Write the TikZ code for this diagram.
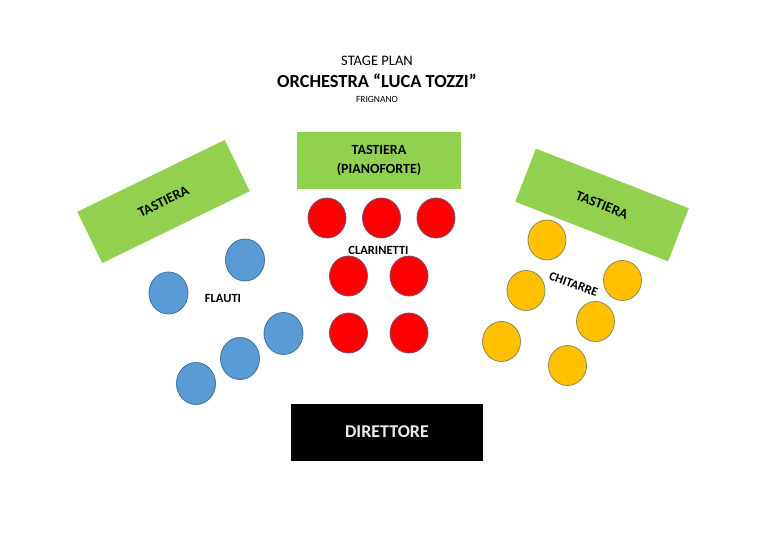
\documentclass[tikz,border=0pt]{standalone}
\usepackage{fontspec}
\setmainfont{Carlito}
\usetikzlibrary{positioning,shapes.geometric}

\begin{document}
\begin{tikzpicture}[x=1pt,y=-1pt,
            keyboard/.style={rectangle, fill=kbgreen, minimum width=164pt, minimum height=57pt, inner sep=0pt, font=\bfseries\fontsize{14}{19}\selectfont, align=center},
            clarinet/.style={ellipse, draw=redline, fill=red, line width=0.8pt, minimum width=38pt, minimum height=40pt},
            flute/.style={ellipse, draw=blueline, fill=flblue, line width=0.8pt, minimum width=39pt, minimum height=42pt},
            guitar/.style={ellipse, draw=orline, fill=gtorange, line width=0.8pt, minimum width=38pt, minimum height=40pt},
            section/.style={font=\bfseries\fontsize{12.5}{14}\selectfont, inner sep=0pt},
            ]
            \definecolor{kbgreen}{HTML}{92D050}
            \definecolor{redline}{HTML}{7A4E78}
            \definecolor{flblue}{HTML}{5B9BD5}
            \definecolor{blueline}{HTML}{41719C}
            \definecolor{gtorange}{HTML}{FFC000}
            \definecolor{orline}{HTML}{8A8A5C}
            \useasboundingbox (0,0) rectangle (768,543);

            %Title
            \node (stage)   at (377,61)  {\fontsize{14.5}{17}\selectfont STAGE PLAN};
            \node (orch)    at (377,81)  {\bfseries\fontsize{18.4}{22}\selectfont ORCHESTRA “LUCA TOZZI”};
            \node (town)    at (377,99)  {\fontsize{9.5}{11}\selectfont FRIGNANO};

            %Keyboards
            \node[keyboard]                (kbmid)   at (379,160)   {TASTIERA\\(PIANOFORTE)};
            \node[keyboard, rotate=26]     (kbleft)  at (163.5,201.5) {TASTIERA};
            \node[keyboard, rotate=-21.3]  (kbright) at (602,205)   {TASTIERA};

            %Clarinets
            \node[clarinet] (cl1) at (327,218) {};
            \node[clarinet] (cl2) at (381.5,218) {};
            \node[clarinet] (cl3) at (436,218) {};
            \node[clarinet] (cl4) at (348.5,276) {};
            \node[clarinet] (cl5) at (409,276) {};
            \node[clarinet] (cl6) at (348.5,333) {};
            \node[clarinet] (cl7) at (409,333) {};
            \node[section]  (clarinetti) at (378.5,250) {CLARINETTI};

            %Flutes
            \node[flute] (fl1) at (245,260) {};
            \node[flute] (fl2) at (168.5,293) {};
            \node[flute] (fl3) at (283.5,333.5) {};
            \node[flute] (fl4) at (240,358.5) {};
            \node[flute] (fl5) at (196,383.5) {};
            \node[section] (flauti) at (223,298.5) {FLAUTI};

            %Guitars
            \node[guitar] (gt1) at (547,240) {};
            \node[guitar] (gt2) at (526,290.5) {};
            \node[guitar] (gt3) at (622.5,280.5) {};
            \node[guitar] (gt4) at (595.5,321.5) {};
            \node[guitar] (gt5) at (501.5,341.5) {};
            \node[guitar] (gt6) at (567.5,365.5) {};
            \node[section, rotate=-20] (chitarre) at (573.5,284) {CHITARRE};

            %Conductor
            \node[rectangle, fill=black, text=white!92!black, minimum width=192pt, minimum height=57pt, font=\bfseries\fontsize{18}{22}\selectfont] (direttore) at (387,432) {DIRETTORE};

        \end{tikzpicture}
\end{document}
